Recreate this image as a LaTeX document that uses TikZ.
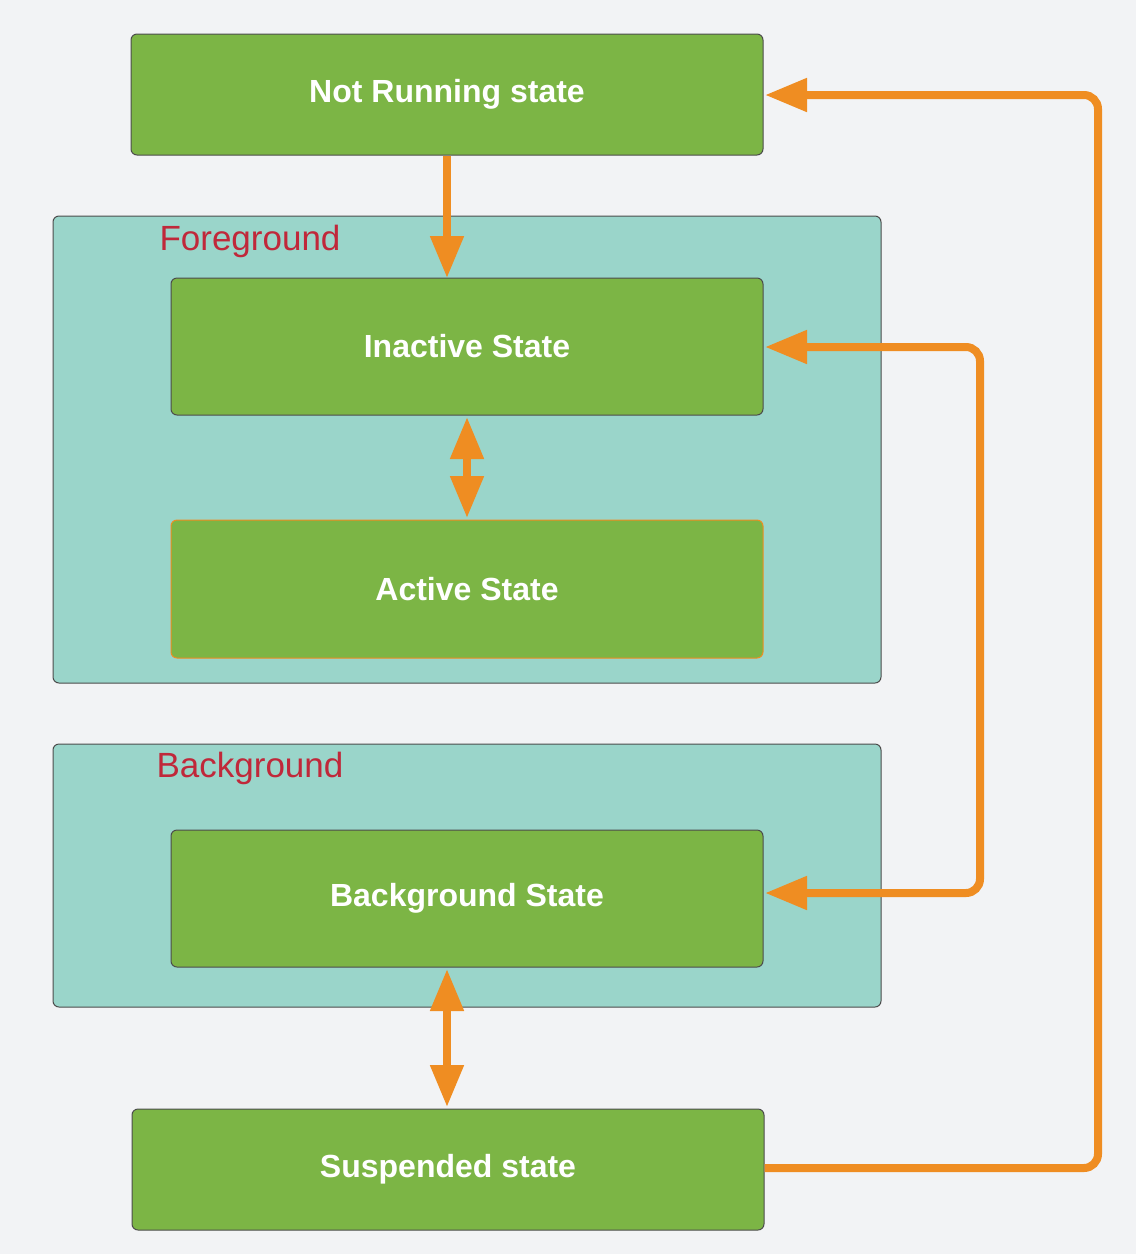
\documentclass[tikz,border=0pt]{standalone}
\usepackage{fontspec}
\setmainfont{Liberation Sans}
\usetikzlibrary{arrows.meta}
\definecolor{bg}{HTML}{F2F3F5}
\definecolor{gr}{HTML}{7CB545}
\definecolor{tl}{HTML}{9AD5CA}
\definecolor{og}{HTML}{EF8D22}
\definecolor{rd}{HTML}{C0283A}
\begin{document}
\begin{tikzpicture}[x=1pt,y=-1pt,
 state/.style={draw=black!70,line width=1pt,fill=gr,rounded corners=6pt,text=white,font=\fontsize{32}{36}\selectfont\bfseries},
 cont/.style={draw=black!70,line width=1pt,fill=tl,rounded corners=6pt},
 lbl/.style={text=rd,font=\fontsize{35}{40}\selectfont},
 arr/.style={draw=og,line width=8pt,-{Triangle[length=42pt,width=32pt]},rounded corners=14pt},
 darr/.style={arr,{Triangle[length=42pt,width=32pt]}-{Triangle[length=42pt,width=32pt]}}]
\fill[bg] (0,0) rectangle (1136,1254);
\draw[cont] (53,216) rectangle (881,683);
\draw[cont] (53,744) rectangle (881,1007);
\node[lbl] (fg) at (250,241) {Foreground};
\node[lbl] (bgl) at (250,768) {Background};
\node[state,minimum width=632pt,minimum height=121pt] (nr) at (447,94.5) {Not Running state};
\node[state,minimum width=592pt,minimum height=137pt] (in) at (467,346.5) {Inactive State};
\node[state,draw=og,minimum width=592pt,minimum height=138pt] (ac) at (467,589) {Active State};
\node[state,minimum width=592pt,minimum height=137pt] (bs) at (467,898.5) {Background State};
\node[state,minimum width=632pt,minimum height=121pt] (su) at (448,1169.5) {Suspended state};
\draw[arr,line cap=butt] (nr.south -| 447,0) -- (447,278);
\draw[darr] (467,417) -- (467,518);
\draw[darr] (447,969) -- (447,1107);
\draw[darr] (765,347) -- (980,347) -- (980,893) -- (765,893);
\draw[arr] (su.east |- 0,1168) -- (1098,1168) -- (1098,95) -- (765,95);
\end{tikzpicture}
\end{document}
